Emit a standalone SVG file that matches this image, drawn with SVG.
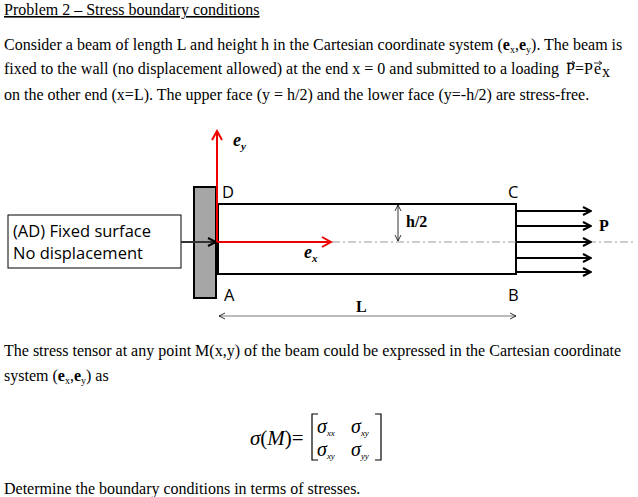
<svg xmlns="http://www.w3.org/2000/svg" width="638" height="497" viewBox="0 0 638 497">
<style>
.t{font-family:"Liberation Serif",serif;font-size:16px;fill:#000}
.c{font-family:"Open Sans","Liberation Sans",sans-serif;font-size:16.5px;fill:#000}
.i{font-family:"Liberation Serif",serif;font-style:italic;font-weight:bold;font-size:18px}
.m{font-family:"Liberation Serif",serif;font-style:italic}
</style>
<defs>
<marker id="ab" markerWidth="10" markerHeight="10" refX="9" refY="5" orient="auto" markerUnits="userSpaceOnUse"><path d="M1,1 L9,5 L1,9" fill="none" stroke="#000" stroke-width="2"/></marker>
<marker id="ar" markerWidth="12" markerHeight="12" refX="10" refY="6" orient="auto" markerUnits="userSpaceOnUse"><path d="M1,1 L10,6 L1,11" fill="none" stroke="#e00" stroke-width="2"/></marker>
<marker id="at" markerWidth="8" markerHeight="8" refX="7" refY="4" orient="auto-start-reverse" markerUnits="userSpaceOnUse"><path d="M1,1 L7,4 L1,7" fill="none" stroke="#000" stroke-width="0.8"/></marker>
</defs>
<text class="t" x="4" y="15" text-decoration="underline">Problem 2 – Stress boundary conditions</text>
<text class="t" x="4" y="50">Consider a beam of length L and height h in the Cartesian coordinate system (<tspan font-weight="bold">e</tspan><tspan font-size="10" dy="3">x</tspan><tspan dy="-3">,</tspan><tspan font-weight="bold">e</tspan><tspan font-size="10" dy="3">y</tspan><tspan dy="-3">). The beam is</tspan></text>
<text class="t" x="4" y="74" textLength="555" lengthAdjust="spacing">fixed to the wall (no displacement allowed) at the end x = 0  and submitted to a loading</text>
<text class="t" x="566" y="74">P</text><text class="t" x="575" y="74">=P</text><text class="t" x="594" y="74">e</text><text class="t" x="602" y="77" font-size="9">x</text>
<path d="M567,63 H574 M572,61 L575,63 L572,65 M594,63 H601 M599,61 L602,63 L599,65" fill="none" stroke="#000" stroke-width="0.8"/>
<text class="t" x="4" y="100">on the other end (x=L). The upper face (y = h/2) and the lower face (y=-h/2) are stress-free.</text>
<g id="wall"><rect x="194" y="187" width="22" height="111" fill="#a6a6a6" stroke="#000" stroke-width="2"/></g>
<g id="beam"><rect x="218" y="204" width="298" height="70" fill="#fff" stroke="#000" stroke-width="2"/></g>
<g id="labels">
<text class="c" x="222" y="198">D</text><text class="c" x="508" y="198">C</text>
<text class="c" x="224" y="301">A</text><text class="c" x="508" y="301">B</text>
<text class="i" x="233" y="146">e<tspan font-size="11" dy="4">y</tspan></text>
<text class="i" x="304" y="258">e<tspan font-size="11" dy="4">x</tspan></text>
<text class="t" x="406" y="227" font-weight="bold" font-size="17">h/2</text>
<text class="t" x="599" y="231" font-weight="bold" font-size="17">P</text>
<text class="t" x="356" y="312" font-weight="bold" font-size="17">L</text>
</g>
<g id="box"><rect x="8" y="215" width="173" height="53" fill="#fff" stroke="#000"/>
<text class="c" x="13" y="237">(AD) Fixed surface</text><text class="c" x="13" y="259">No displacement</text></g>
<g id="connectors">
<line x1="181" y1="242" x2="216" y2="242" stroke="#333" stroke-width="2" marker-end="url(#ab)"/>
<line x1="332" y1="242" x2="634" y2="242" stroke="#999" stroke-dasharray="8,3,2,3"/>
<line x1="217" y1="242" x2="217" y2="131" stroke="#e00" stroke-width="2" marker-end="url(#ar)"/>
<line x1="217" y1="242" x2="331" y2="242" stroke="#e00" stroke-width="2" marker-end="url(#ar)"/>
<line x1="398" y1="205" x2="398" y2="241" stroke="#000" stroke-width="0.8" marker-start="url(#at)" marker-end="url(#at)"/>
<line x1="219" y1="316" x2="516" y2="316" stroke="#555" stroke-width="0.8" marker-start="url(#at)" marker-end="url(#at)"/>
<g stroke="#000" stroke-width="2" marker-end="url(#ab)">
<line x1="517" y1="211" x2="591" y2="211"/><line x1="517" y1="226" x2="591" y2="226"/>
<line x1="517" y1="242" x2="591" y2="242"/><line x1="517" y1="258" x2="591" y2="258"/>
<line x1="517" y1="272" x2="591" y2="272"/></g>
</g>
<text class="t" x="4" y="356">The stress tensor at any point M(x,y) of the beam could be expressed in the Cartesian coordinate</text>
<text class="t" x="4" y="381">system (<tspan font-weight="bold">e</tspan><tspan font-size="10" dy="3">x</tspan><tspan dy="-3">,</tspan><tspan font-weight="bold">e</tspan><tspan font-size="10" dy="3">y</tspan><tspan dy="-3">) as</tspan></text>
<g id="matrix" font-family="Liberation Serif,serif">
<text x="250" y="445" font-size="21"><tspan class="m">σ</tspan>(<tspan class="m">M</tspan>)=</text>
<path d="M318,414 H312 V460 H318 M375,414 H381 V460 H375" fill="none" stroke="#000" stroke-width="1.2"/>
<text class="m" x="317" y="433" font-size="20">σ<tspan font-size="9" dy="3">xx</tspan></text>
<text class="m" x="351" y="433" font-size="20">σ<tspan font-size="9" dy="3">xy</tspan></text>
<text class="m" x="317" y="456" font-size="20">σ<tspan font-size="9" dy="3">xy</tspan></text>
<text class="m" x="351" y="456" font-size="20">σ<tspan font-size="9" dy="3">yy</tspan></text>
</g>
<text class="t" x="4" y="494">Determine the boundary conditions in terms of stresses.</text>
</svg>
